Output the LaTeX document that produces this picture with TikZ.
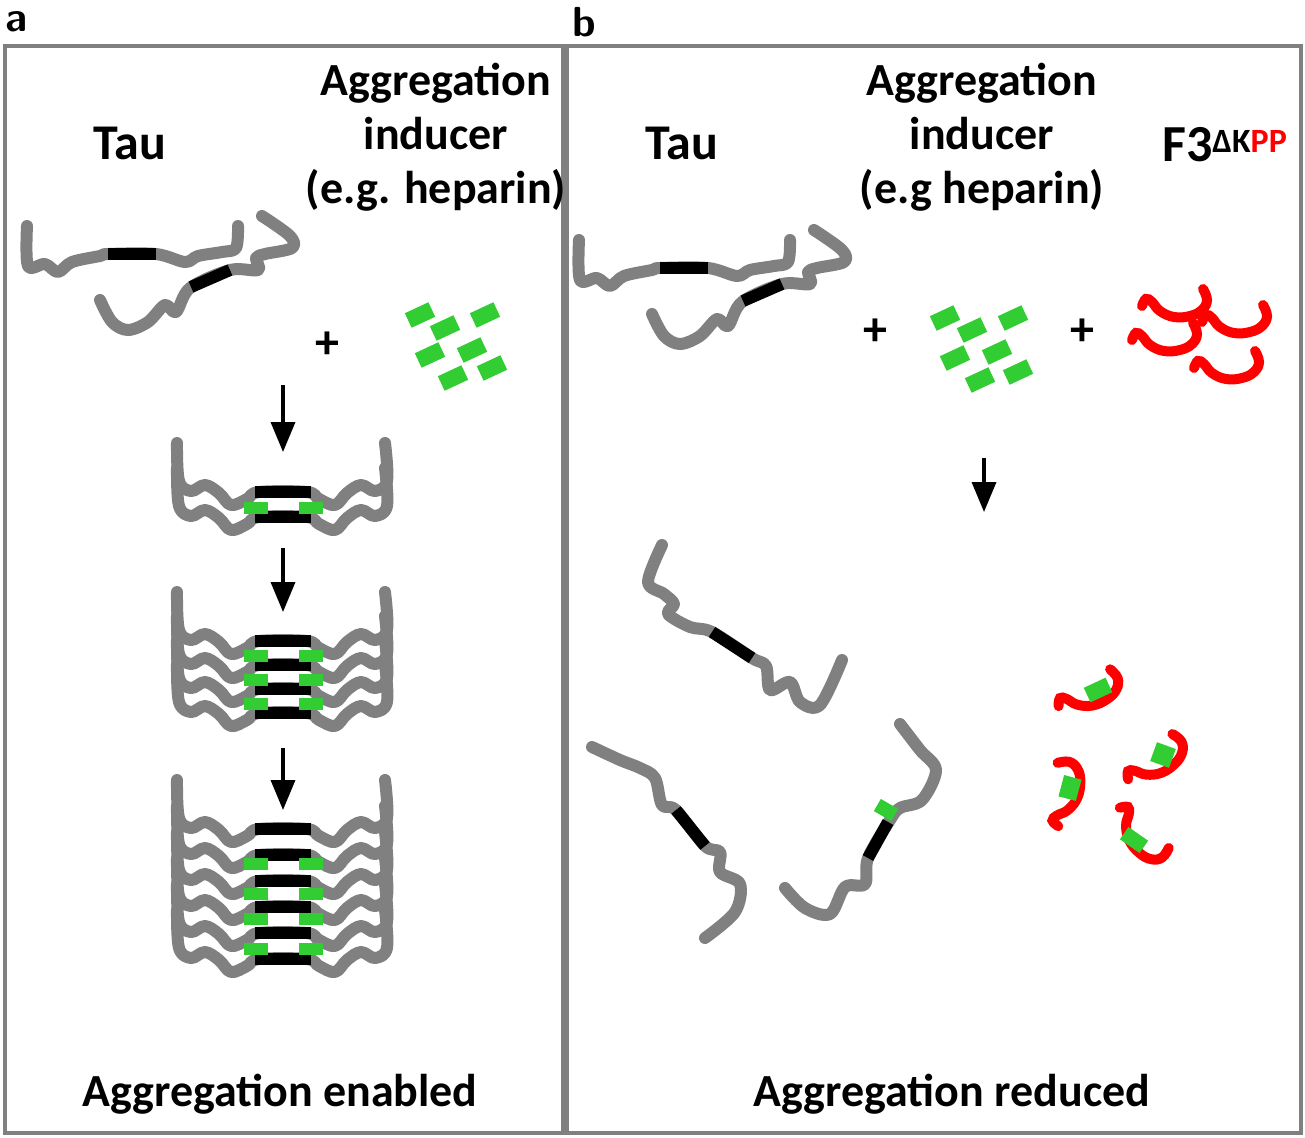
\documentclass[tikz,border=0pt]{standalone}
\usepackage{fontspec}
\setmainfont{Carlito}
\usetikzlibrary{arrows.meta}
\definecolor{tgray}{RGB}{128,128,128}
\definecolor{hgreen}{RGB}{50,205,50}
\definecolor{fred}{RGB}{255,0,0}
\tikzset{
  tau/.style={draw=tgray,line width=12pt,line cap=round,line join=round},
  seg/.style={draw=black,line width=12pt},
  hep/.style={fill=hgreen,draw=none,minimum width=26pt,minimum height=16pt,inner sep=0pt},
  frame/.style={draw=tgray,line width=4.5pt},
  arr/.style={-{Triangle[length=30pt,width=24pt]},line width=3.5pt},
  f3/.style={draw=fred,line width=10pt,line cap=round},
  lbl/.style={font=\fontsize{46}{54}\selectfont\bfseries,align=center},
  pan/.style={font=\fontsize{42}{42}\selectfont\bfseries\sffamily}
}
\newcommand{\chainlayer}[1]{%
 \begin{scope}[shift={(283,#1)}]
  \draw[tau] plot[smooth,tension=0.6] coordinates{(-106,-52) (-104,-14) (-92,-4) (-78,-10) (-64,-2) (-52,10) (-36,4) (-24,-3) (24,-3) (36,4) (52,10) (64,-2) (78,-10) (92,-4) (104,-14) (102,-52)};
  \draw[seg] (-28,-3) -- (28,-3);
 \end{scope}}
\newcommand{\greenpair}[1]{%
  \node[hep,minimum width=24pt,minimum height=12pt] (g1#1) at (256,#1) {};
  \node[hep,minimum width=24pt,minimum height=12pt] (g2#1) at (311,#1) {};}
\newcommand{\tauPair}{%
  \draw[tau] plot[smooth,tension=0.55] coordinates{(27,226) (28,266) (45,264) (58,272) (72,262) (100,256) (108,254) (156,254) (185,262) (198,256) (222,252) (236,248) (238,226)};
  \draw[seg] (108,254) -- (156,254);
  \draw[tau] plot[smooth,tension=0.55] coordinates{(262,216) (290,236) (292,248) (265,254) (256,258) (258,270) (230,270) (190,288) (176,312) (165,305) (148,322) (128,330) (112,322) (100,300)};
  \draw[seg] (230,270) -- (191,287);}
\newcommand{\hook}{%
  \draw[f3] plot[smooth,tension=0.7] coordinates{(-38,-2) (-34,-9) (-28,-6) (-20,3) (-6,9) (10,8) (22,2) (27,-8) (23,-19)};}
\begin{document}
\begin{tikzpicture}[x=1pt,y=-1pt]
\useasboundingbox (0,0) rectangle (1305,1137);
\fill[white] (0,0) rectangle (1305,1137);
\draw[frame] (5,46) rectangle (563,1133);
\draw[frame] (567,46) rectangle (1301,1133);
\node[pan] (pa) at (17,22) {a};
\node[pan] (pb) at (584,22) {b};
% ---------- panel a -----------
\node[lbl,font=\fontsize{50}{54}\selectfont\bfseries] (tauA) at (130,143) {Tau};
\node[lbl] (indA) at (436,137) {Aggregation\\inducer\\(e.g. heparin)};
\tauPair
\node[font=\fontsize{48}{48}\selectfont\bfseries] (plA) at (327,345) {+};
\foreach \x/\y [count=\i] in {420/315,445/328,485/315,430/355,472/350,453/378,492/368}
  \node[hep,rotate=25] (ha\i) at (\x,\y) {};
\chainlayer{495}\chainlayer{520}
\greenpair{508}
\foreach \yy in {644,668,692,716} {\chainlayer{\yy}}
\foreach \yy in {656,680,704} {\greenpair{\yy}}
\foreach \yy in {832,858,884,910,936,962} {\chainlayer{\yy}}
\foreach \yy in {864,894,919,949} {\greenpair{\yy}}
\coordinate (a1s) at (283,385); \coordinate (a1e) at (283,452);
\coordinate (a2s) at (283,548); \coordinate (a2e) at (283,612);
\coordinate (a3s) at (283,748); \coordinate (a3e) at (283,810);
\draw[arr] (a1s) -- (a1e);
\draw[arr] (a2s) -- (a2e);
\draw[arr] (a3s) -- (a3e);
\node[lbl] (botA) at (280,1094) {Aggregation enabled};
% ---------- panel b -----------
\node[lbl,font=\fontsize{50}{54}\selectfont\bfseries] (tauB) at (682,143) {Tau};
\node[lbl] (indB) at (982,137) {Aggregation\\inducer\\(e.g heparin)};
\node[lbl,anchor=west,inner sep=0pt,font=\fontsize{52}{54}\selectfont\bfseries] (f3) at (1162,145) {F3\textsuperscript{\fontsize{34}{34}\selectfont ΔK\textcolor{fred}{PP}}};
\begin{scope}[shift={(552,14)}]\tauPair\end{scope}
\node[font=\fontsize{48}{48}\selectfont\bfseries] (plB1) at (875,332) {+};
\node[font=\fontsize{48}{48}\selectfont\bfseries] (plB2) at (1082,332) {+};
\foreach \x/\y [count=\i] in {945/318,972/330,1013/318,955/358,997/352,980/380,1018/372}
  \node[hep,rotate=25] (hb\i) at (\x,\y) {};
\foreach \x/\y in {1180/308,1240/324,1170/342,1232/370}
  {\begin{scope}[shift={(\x,\y)}]\hook\end{scope}}
\coordinate (b1s) at (984,458); \coordinate (b1e) at (984,512);
\draw[arr] (b1s) -- (b1e);
\draw[tau] plot[smooth,tension=0.55] coordinates{(662,545) (648,582) (664,594) (674,604) (668,614) (690,627) (712,632) (752,658) (766,666) (770,690) (790,682) (800,702) (820,705) (842,660)};
\draw[seg] (712,632) -- (752,658);
\draw[tau] plot[smooth,tension=0.55] coordinates{(592,747) (620,760) (640,768) (655,778) (662,805) (676,810) (705,846) (720,852) (720,872) (740,884) (735,912) (705,938)};
\draw[seg] (676,810) -- (705,846);
\draw[tau] plot[smooth,tension=0.55] coordinates{(785,888) (805,908) (830,914) (845,887) (865,884) (868,858) (890,820) (900,808) (922,800) (936,770) (920,750) (900,724)};
\draw[seg] (868,858) -- (888,822);
\node[hep,minimum width=20pt,minimum height=14pt,rotate=-30] (gt) at (886,810) {};
\begin{scope}[shift={(1095,695)},rotate=20]\hook\end{scope}
\node[hep,minimum width=24pt,minimum height=16pt,rotate=25] (gb1) at (1098,690) {};
\begin{scope}[shift={(1162,762)},rotate=30]\hook\end{scope}
\node[hep,minimum width=20pt,minimum height=20pt,rotate=-20] (gb2) at (1163,755) {};
\begin{scope}[shift={(1070,790)},rotate=75]\hook\end{scope}
\node[hep,minimum width=18pt,minimum height=22pt,rotate=-15] (gb3) at (1070,788) {};
\begin{scope}[shift={(1140,840)},rotate=-55]\hook\end{scope}
\node[hep,minimum width=24pt,minimum height=15pt,rotate=-35] (gb4) at (1134,840) {};
\node[lbl] (botB) at (952,1094) {Aggregation reduced};
\end{tikzpicture}
\end{document}
